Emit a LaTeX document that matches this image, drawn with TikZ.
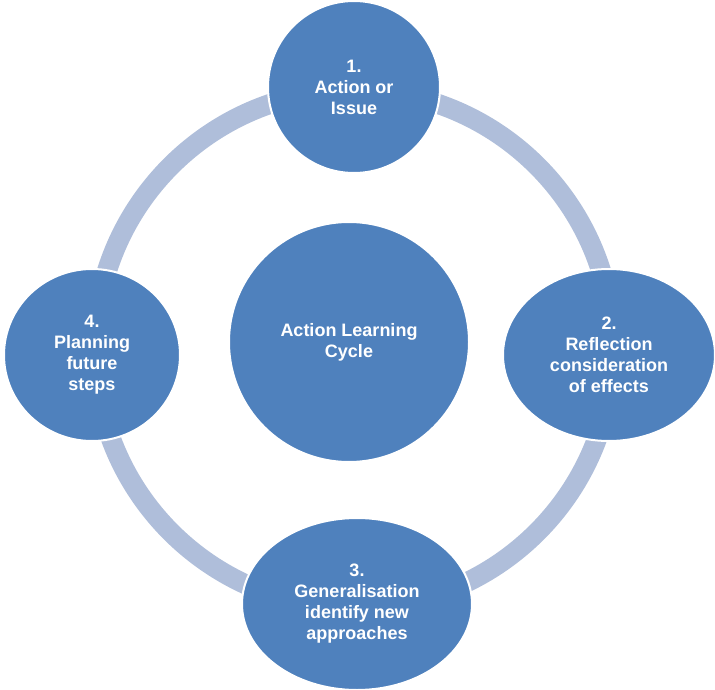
\documentclass[tikz,border=0pt]{standalone}
\usepackage{fontspec}
\setmainfont{Liberation Sans}
\usetikzlibrary{shapes.geometric}
\definecolor{nodeblue}{HTML}{4F81BD}
\definecolor{ringblue}{HTML}{AFBEDA}
\begin{document}
\begin{tikzpicture}[x=1pt,y=-1pt,
  blob/.style={ellipse,fill=nodeblue,draw=white,line width=2pt,inner sep=0pt,
    text=white,font=\fontsize{18}{21}\selectfont\bfseries,align=center}]
\useasboundingbox (0,0) rectangle (715,690);
\draw[ringblue,line width=20pt] (354,349) ellipse [x radius=259,y radius=259];
\node[blob,minimum width=240,minimum height=240] (c) at (349,342) {Action Learning\\Cycle};
\node[blob,minimum width=172,minimum height=172] (a) at (354,87) {1.\\Action or\\Issue};
\node[blob,minimum width=212,minimum height=172] (b) at (609,355) {2.\\Reflection\\consideration\\of effects};
\node[blob,minimum width=230,minimum height=172] (g) at (357,604) {3.\\Generalisation\\identify new\\approaches};
\node[blob,minimum width=176,minimum height=172] (p) at (92,355) {4.\\Planning\\future\\steps};
\end{tikzpicture}
\end{document}
